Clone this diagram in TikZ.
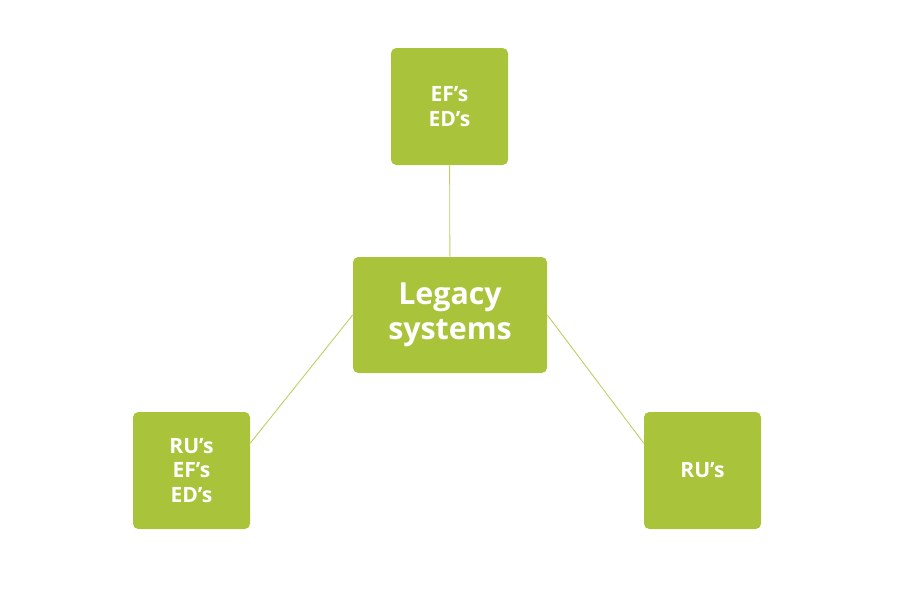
\documentclass[tikz,border=0pt]{standalone}
\usepackage{fontspec}
\setmainfont{Open Sans}
\definecolor{legacygreen}{HTML}{A9C43B}
\tikzstyle{box} = [rectangle, rounded corners=3pt,
minimum width=2.34cm,
minimum height=2.34cm,
align=center,
text=white,
font=\bfseries\large,
fill=legacygreen]
\tikzstyle{link} = [draw=legacygreen!80, line width=0.5pt]

\begin{document}
\begin{tikzpicture}
\useasboundingbox (0,0) rectangle (18,-12);

\node (legacy) [box, minimum width=3.88cm, minimum height=2.32cm, font=\bfseries\LARGE] at (9,-6.3) {Legacy\\[-2pt]systems};
\node (top) [box] at (8.99,-2.13) {EF's\\ED's};
\node (left) [box] at (3.83,-9.41) {RU's\\EF's\\ED's};
\node (right) [box] at (14.05,-9.41) {RU's};

\draw[link] (top) -- (legacy);
\draw[link] (legacy.west) -- (left.25);
\draw[link] (legacy.east) -- (right.155);

\end{tikzpicture}
\end{document}
